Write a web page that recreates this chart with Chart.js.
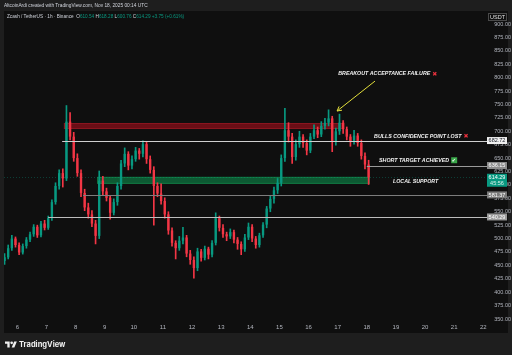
<!DOCTYPE html>
<html>
<head>
<meta charset="utf-8">
<script src="https://cdn.jsdelivr.net/npm/chart.js@4.4.1/dist/chart.umd.min.js"></script>
<style>
  html, body { margin: 0; padding: 0; background: #1e1e1e; }
  body { width: 512px; height: 355px; position: relative; overflow: hidden; font-family: "Liberation Sans", sans-serif; }
  #pane { position: absolute; left: 4px; top: 11px; width: 504px; height: 322px; background: #0f0f0f; }
  #wrap { position: absolute; left: 0; top: 0; width: 512px; height: 355px; }
  #credit { position: absolute; left: 4px; top: 2.5px; font-size: 4.8px; color: #d1d4dc; white-space: nowrap; }
  #symbol { position: absolute; left: 7px; top: 13.5px; font-size: 4.7px; color: #d1d4dc; white-space: nowrap; }
  #symbol .g { color: #089981; }
  #footer { position: absolute; left: 5px; top: 340px; display: flex; align-items: center; gap: 2px; }
  #footer span { font-family: "Inter", sans-serif; font-weight: 700; font-size: 7.5px; color: #f0f0f0; }
</style>
</head>
<body>
<div id="pane"></div>
<div id="wrap"><canvas id="chart" width="512" height="355"></canvas></div>
<div id="credit">AltcoinArdi created with TradingView.com, Nov 18, 2025 00:14 UTC</div>
<div id="symbol">Zcash / TetherUS · 1h · Binance &nbsp;O<span class="g">610.54</span> H<span class="g">618.28</span> L<span class="g">600.76</span> C<span class="g">614.29</span> <span class="g">+3.75 (+0.61%)</span></div>
<div id="footer">
  <svg width="12" height="9" viewBox="0 0 36 26"><path fill="#f0f0f0" d="M14 22H7V11H0V4h14v18z"/><circle fill="#f0f0f0" cx="20" cy="8" r="4"/><path fill="#f0f0f0" d="M20 22l7.5-18h8L28 22z"/></svg>
  <span>TradingView</span>
</div>
<script>
// ZEC/USDT, 3h candles, starting Nov 5 12:00
const startDay = 5.5625
const stepDay = 0.125

const opens = [458, 465, 482, 500, 488, 474, 486, 498, 508, 522,
  506, 528, 520, 538, 568, 598, 622, 612, 718, 690,
  650, 622, 585, 558, 545, 528, 505, 608, 588, 576,
  548, 568, 598, 640, 658, 636, 648, 664, 658, 676,
  648, 628, 598, 584, 570, 545, 515, 492, 482, 496,
  502, 472, 460, 445, 476, 464, 481, 470, 492, 538,
  520, 508, 504, 512, 498, 490, 480, 502, 522, 500,
  488, 506, 526, 556, 574, 590, 604, 650, 702, 690,
  652, 676, 690, 678, 664, 690, 702, 694, 710, 716,
  724, 680, 700, 716, 704, 690, 680, 692, 678, 654,
  638]
const highs = [472, 488, 506, 503, 492, 490, 502, 512, 526, 525,
  532, 534, 542, 572, 604, 628, 630, 748, 735, 698,
  658, 628, 592, 566, 552, 534, 626, 616, 594, 580,
  574, 604, 646, 669, 662, 654, 670, 668, 682, 680,
  654, 634, 604, 602, 576, 550, 520, 496, 504, 521,
  506, 478, 466, 482, 480, 486, 484, 496, 548, 542,
  526, 512, 518, 516, 502, 494, 508, 529, 526, 504,
  510, 530, 560, 580, 596, 612, 656, 743, 716, 696,
  684, 700, 694, 684, 696, 712, 708, 718, 724, 740,
  728, 706, 732, 720, 708, 694, 702, 696, 684, 660,
  646]
const lows = [452, 462, 478, 484, 470, 471, 482, 494, 504, 502,
  503, 516, 517, 534, 564, 592, 596, 608, 684, 644,
  616, 578, 552, 538, 522, 490, 500, 582, 570, 536,
  544, 562, 592, 634, 628, 630, 644, 648, 652, 640,
  622, 525, 578, 564, 538, 508, 486, 462, 478, 490,
  466, 452, 426, 440, 458, 460, 462, 466, 488, 514,
  502, 496, 500, 492, 480, 470, 476, 498, 494, 482,
  484, 502, 520, 550, 566, 584, 598, 644, 680, 640,
  646, 670, 670, 656, 660, 686, 688, 690, 704, 710,
  662, 674, 694, 696, 684, 672, 676, 672, 648, 630,
  600.76]
const closes = [465, 482, 500, 488, 474, 486, 498, 508, 522, 506,
  528, 520, 538, 568, 598, 622, 612, 718, 690, 650,
  622, 585, 558, 545, 528, 505, 608, 588, 576, 548,
  568, 598, 640, 658, 636, 648, 664, 658, 676, 648,
  628, 598, 584, 570, 545, 515, 492, 482, 496, 502,
  472, 460, 445, 476, 464, 481, 470, 492, 538, 520,
  508, 504, 512, 498, 490, 480, 502, 522, 500, 488,
  506, 526, 556, 574, 590, 604, 650, 702, 690, 652,
  676, 690, 678, 664, 690, 702, 694, 710, 716, 724,
  680, 700, 716, 704, 690, 680, 692, 678, 654, 638,
  614.29]

const dayTicks = [6, 7, 8, 9, 10, 11, 12, 13, 14, 15, 16, 17, 18, 19, 20, 21, 22]
const priceTicks = [350, 375, 400, 425, 450, 475, 500, 525, 550, 575, 600, 625, 650,
  675, 700, 725, 750, 775, 800, 825, 850, 875, 900]

// drawn levels
const levelPrices = [682.72, 636.15, 581.37, 540.29]
const levelStarts = [7.54, 18.0, 8.26, 7.06]
const zoneLows = [704.2, 602.0]
const zoneHighs = [715.4, 615.0]
const zoneStarts = [7.6, 8.74]
const zoneEnds = [17.22, 18.11]
const lastPrice = 614.29
const countdown = "45:56"

const noteTexts = ["BREAKOUT ACCEPTANCE FAILURE", "BULLS CONFIDENCE POINT LOST", "SHORT TARGET ACHIEVED", "LOCAL SUPPORT"]
const noteDays = [17.02, 18.25, 18.42, 18.9]
const notePrices = [806.8, 691, 646, 607]
const noteMarks = ["cross", "cross", "check", ""]
const arrowFrom = [18.28, 793.5]
const arrowTo = [16.98, 737.8]

const UP = "#089981"
const DOWN = "#f23645"

const times = opens.map((_, i) => startDay + i * stepDay)
const colors = closes.map((c, i) => (c >= opens[i] ? UP : DOWN))

const overlays = {
  id: "overlays",
  beforeDatasetsDraw(chart) {
    const { ctx, chartArea, scales: { x, y } } = chart
    ctx.save()
    // zones
    const zoneFill = ["#6a0e16", "#0d5a33"]
    const zoneEdge = ["#8b1620", "#127843"]
    for (let i = 0; i < zoneLows.length; i++) {
      const x0 = x.getPixelForValue(zoneStarts[i])
      const x1 = x.getPixelForValue(zoneEnds[i])
      const y0 = y.getPixelForValue(zoneHighs[i])
      const y1 = y.getPixelForValue(zoneLows[i])
      ctx.fillStyle = zoneFill[i]
      ctx.fillRect(x0, y0, x1 - x0, y1 - y0)
      ctx.strokeStyle = zoneEdge[i]
      ctx.lineWidth = 1
      ctx.strokeRect(x0 + 0.5, y0 + 0.5, x1 - x0 - 1, y1 - y0 - 1)
    }
    // last price line
    const py = Math.round(y.getPixelForValue(lastPrice)) + 0.5
    ctx.strokeStyle = "rgba(8,153,129,0.35)"
    ctx.setLineDash([1, 2])
    ctx.beginPath()
    ctx.moveTo(chartArea.left, py)
    ctx.lineTo(chartArea.right, py)
    ctx.stroke()
    ctx.restore()
  },
  afterDatasetsDraw(chart) {
    const { ctx, scales: { x, y } } = chart
    ctx.save()
    const lineColors = ["#cfcfcf", "#9a9a9a", "#7d7d7d", "#bdbdbd"]
    const labelBg = ["#f0f0f0", "#8c8c8c", "#7a7a7a", "#9a9a9a"]
    const labelFg = ["#131722", "#ffffff", "#ffffff", "#ffffff"]
    const boxX = 487, boxW = 20
    for (let i = 0; i < levelPrices.length; i++) {
      const ly = Math.round(y.getPixelForValue(levelPrices[i])) + 0.5
      ctx.strokeStyle = lineColors[i]
      ctx.lineWidth = 1
      ctx.beginPath()
      ctx.moveTo(x.getPixelForValue(levelStarts[i]), ly)
      ctx.lineTo(boxX, ly)
      ctx.stroke()
    }
    // arrow
    const ax0 = x.getPixelForValue(arrowFrom[0]), ay0 = y.getPixelForValue(arrowFrom[1])
    const ax1 = x.getPixelForValue(arrowTo[0]), ay1 = y.getPixelForValue(arrowTo[1])
    ctx.strokeStyle = "#e4e03c"
    ctx.lineWidth = 1
    ctx.beginPath()
    ctx.moveTo(ax0, ay0)
    ctx.lineTo(ax1, ay1)
    const ang = Math.atan2(ay1 - ay0, ax1 - ax0)
    ctx.moveTo(ax1, ay1)
    ctx.lineTo(ax1 - 5 * Math.cos(ang - 0.5), ay1 - 5 * Math.sin(ang - 0.5))
    ctx.moveTo(ax1, ay1)
    ctx.lineTo(ax1 - 5 * Math.cos(ang + 0.5), ay1 - 5 * Math.sin(ang + 0.5))
    ctx.stroke()
    // notes
    const noteFont = "italic bold 5.3px 'Liberation Sans', sans-serif"
    ctx.font = noteFont
    ctx.textBaseline = "middle"
    ctx.textAlign = "left"
    for (let i = 0; i < noteTexts.length; i++) {
      const nx = x.getPixelForValue(noteDays[i])
      const ny = y.getPixelForValue(notePrices[i])
      ctx.fillStyle = "#f2f2f2"
      ctx.fillText(noteTexts[i], nx, ny)
      const w = ctx.measureText(noteTexts[i]).width
      if (noteMarks[i] === "cross") {
        ctx.fillStyle = "#e8313d"
        ctx.font = "bold 6px 'DejaVu Sans', sans-serif"
        ctx.fillText("✖", nx + w + 2, ny)
        ctx.font = noteFont
      } else if (noteMarks[i] === "check") {
        ctx.fillStyle = "#3aa84a"
        ctx.fillRect(nx + w + 2, ny - 3, 6, 6)
        ctx.fillStyle = "#ffffff"
        ctx.font = "bold 5px 'DejaVu Sans', sans-serif"
        ctx.fillText("✔", nx + w + 2.6, ny + 0.3)
        ctx.font = noteFont
      }
    }
    // price labels on the axis
    ctx.font = "5.5px 'Liberation Sans', sans-serif"
    ctx.textAlign = "center"
    for (let i = 0; i < levelPrices.length; i++) {
      const ly = y.getPixelForValue(levelPrices[i])
      ctx.fillStyle = labelBg[i]
      ctx.fillRect(boxX, ly - 3.5, boxW, 7)
      ctx.fillStyle = labelFg[i]
      ctx.fillText(levelPrices[i].toFixed(2), boxX + boxW / 2, ly + 0.3)
    }
    const lp = y.getPixelForValue(lastPrice)
    ctx.fillStyle = UP
    ctx.fillRect(boxX, lp - 3.5, boxW, 13)
    ctx.fillStyle = "#ffffff"
    ctx.fillText(lastPrice.toFixed(2), boxX + boxW / 2, lp + 0.3)
    ctx.fillStyle = "#d8f0ea"
    ctx.fillText(countdown, boxX + boxW / 2, lp + 6.3)
    // currency box
    ctx.fillStyle = "#0f0f0f"
    ctx.fillRect(488, 13, 19, 8)
    ctx.strokeStyle = "#4a4a4a"
    ctx.strokeRect(488.5, 13.5, 18, 7)
    ctx.fillStyle = "#e0e0e0"
    ctx.fillText("USDT", 497.5, 17.3)
    ctx.restore()
  },
}

new Chart(document.getElementById("chart"), {
  type: "bar",
  data: {
    datasets: [
      {
        data: times.map((t, i) => ({ x: t, y: [opens[i], closes[i]] })),
        backgroundColor: colors,
        grouped: false,
        categoryPercentage: 1,
        barPercentage: 0.65,
      },
      {
        data: times.map((t, i) => ({ x: t, y: [lows[i], highs[i]] })),
        backgroundColor: colors,
        grouped: false,
        barThickness: 1,
      },
    ],
  },
  options: {
    responsive: false,
    animation: false,
    layout: { padding: { left: 4, right: 4, top: 12, bottom: 22 } },
    plugins: { legend: { display: false }, tooltip: { enabled: false } },
    scales: {
      x: {
        type: "linear",
        min: 5.5433,
        max: 22.848,
        offset: false,
        grid: { display: false, drawTicks: false },
        border: { display: false },
        afterBuildTicks: (s) => { s.ticks = dayTicks.map((v) => ({ value: v })) },
        afterFit: (s) => { s.height = 11 },
        ticks: { color: "#b2b5be", font: { size: 6 }, padding: 2, maxRotation: 0, autoSkip: false },
      },
      y: {
        type: "linear",
        position: "right",
        min: 344.44,
        max: 922.37,
        grid: { display: false, drawTicks: false },
        border: { display: false },
        afterBuildTicks: (s) => { s.ticks = priceTicks.map((v) => ({ value: v })) },
        afterFit: (s) => { s.width = 0 },
        ticks: {
          mirror: true,
          padding: 3,
          color: "#b2b5be",
          font: { size: 5.5 },
          callback: (v) => v.toFixed(2),
        },
      },
    },
  },
  plugins: [overlays],
})
</script>
</body>
</html>
